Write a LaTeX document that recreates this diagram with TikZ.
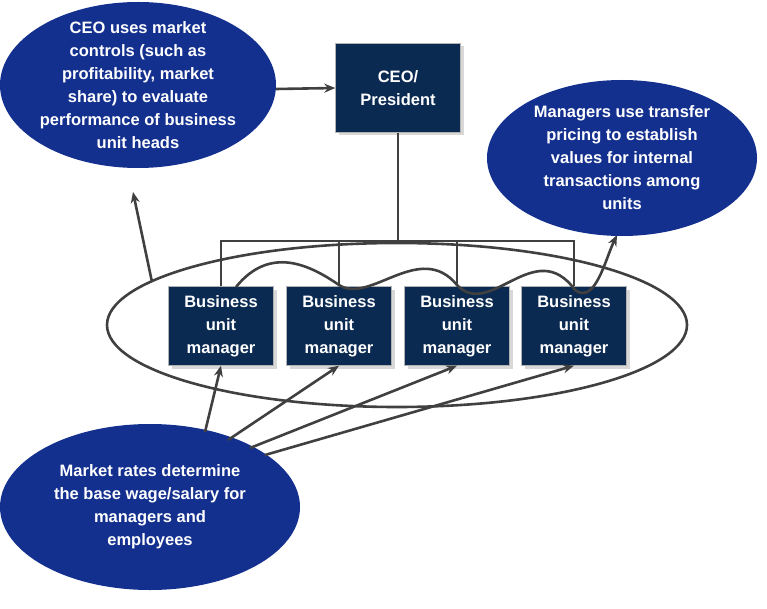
\documentclass[tikz,border=0pt]{standalone}
\usepackage{fontspec}
\setmainfont{Liberation Sans}
\usetikzlibrary{shadows,arrows.meta,shapes.geometric}
\definecolor{oval}{HTML}{14308F}
\definecolor{navy}{HTML}{0B2A52}
\definecolor{ln}{HTML}{404040}
\begin{document}
\begin{tikzpicture}[x=1pt,y=-1pt,
  bubble/.style={text=white,font=\bfseries\fontsize{16.5}{23}\selectfont,align=center,inner sep=0pt},
  bumgr/.style={fill=navy,draw=gray!60,text=white,font=\bfseries\fontsize{16.5}{23}\selectfont,align=center,minimum width=105,minimum height=79,inner sep=0pt,drop shadow={fill=gray!60,shadow xshift=3pt,shadow yshift=-3pt}},
  conn/.style={draw=ln,line width=2.6pt},
  arr/.style={conn,-{Stealth[length=11pt,width=9pt]}}]
\useasboundingbox (0,0) rectangle (767,609);
\node[bumgr,minimum width=125,minimum height=89] (ceo) at (398,88) {CEO/\\President};
\node[bumgr] (b1) at (221,326) {Business\\unit\\manager};
\node[bumgr] (b2) at (339,326) {Business\\unit\\manager};
\node[bumgr] (b3) at (457,326) {Business\\unit\\manager};
\node[bumgr] (b4) at (574,326) {Business\\unit\\manager};
\draw[conn] (ceo.south) -- (398,241) coordinate (top);
\draw[conn] (b1.north) -- (221,241) -- (574,241) -- (b4.north);
\draw[conn] (b2.north) -- (339,241);
\draw[conn] (b3.north) -- (457,241);
\draw[conn] (397,325) ellipse (290 and 82);
\draw[arr] (236,287) .. controls (270,245) and (310,265) .. (339,285) .. controls (370,305) and (420,240) .. (457,285) .. controls (490,320) and (535,235) .. (575,290) .. controls (595,305) and (605,260) .. (617,235);
\fill[oval] (138,85) ellipse (138 and 83);
\node[bubble] (tl) at (138,85) {CEO uses market\\controls (such as\\profitability, market\\share) to evaluate\\performance of business\\unit heads};
\fill[oval] (622,158) ellipse (135 and 78);
\node[bubble] (tr) at (622,158) {Managers use transfer\\pricing to establish\\values for internal\\transactions among\\units};
\fill[oval] (150,507) ellipse (150 and 83);
\node[bubble] (bl) at (150,507) {Market rates determine\\the base wage/salary for\\managers and\\employees};
\draw[arr] (276,89) -- (ceo.west);
\draw[arr] (152,282) -- (133,192);
\draw[arr] (205,432) -- (b1.south);
\draw[arr] (228,440) -- (b2.south);
\draw[arr] (250,448) -- (b3.south);
\draw[arr] (265,455) -- (b4.south);
\end{tikzpicture}
\end{document}
